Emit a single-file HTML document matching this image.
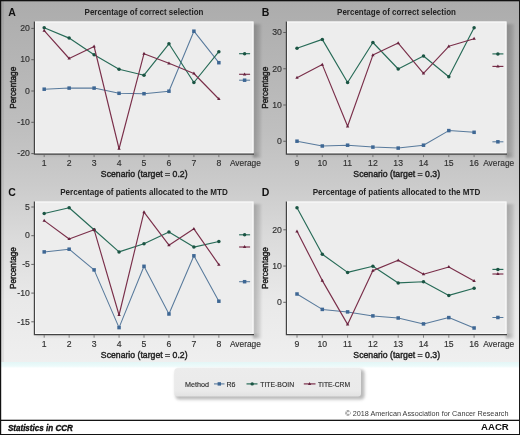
<!DOCTYPE html>
<html><head><meta charset="utf-8"><style>
html,body{margin:0;padding:0;background:#fff;}
body{width:520px;height:435px;overflow:hidden;position:relative;font-family:"Liberation Sans", sans-serif;}
svg{position:absolute;left:0;top:0;}
.tk{font-family:"Liberation Sans", sans-serif;font-size:8.7px;fill:#303030;stroke:#303030;stroke-width:0.15px;}
.xt{font-family:"Liberation Sans", sans-serif;font-size:8.6px;fill:#1e1e1e;stroke:#1e1e1e;stroke-width:0.4px;}
.ti{font-family:"Liberation Sans", sans-serif;font-size:8.7px;font-weight:bold;fill:#222;}
.pl{font-family:"Liberation Sans", sans-serif;font-size:10.5px;font-weight:bold;fill:#111;}
.yl{font-family:"Liberation Sans", sans-serif;font-size:8.4px;fill:#1e1e1e;stroke:#1e1e1e;stroke-width:0.45px;}
.lg{font-family:"Liberation Sans", sans-serif;font-size:7.7px;fill:#2e2e2e;stroke:#2e2e2e;stroke-width:0.15px;}
.cp{font-family:"Liberation Sans", sans-serif;font-size:8px;fill:#3a3a3a;}
.ft{font-family:"Liberation Sans", sans-serif;font-size:8.2px;font-weight:bold;font-style:italic;fill:#111;stroke:#111;stroke-width:0.35px;}
.aa{font-family:"Liberation Sans", sans-serif;font-size:9.4px;font-weight:bold;fill:#111;}
</style></head><body>
<svg width="520" height="435" viewBox="0 0 520 435">
<defs>
<filter id="sh" x="-10%" y="-30%" width="120%" height="180%"><feGaussianBlur stdDeviation="1.8"/></filter>
<linearGradient id="bg" x1="0" y1="0" x2="0" y2="1">
<stop offset="0" stop-color="#acacac"/><stop offset="0.36" stop-color="#bfbfbf"/><stop offset="0.51" stop-color="#cbcbcb"/><stop offset="0.66" stop-color="#dbdbdb"/><stop offset="0.83" stop-color="#e9e9e9"/><stop offset="1" stop-color="#efefef"/>
</linearGradient>
<linearGradient id="shR" x1="0" y1="0" x2="1" y2="0">
<stop offset="0" stop-color="#000" stop-opacity="0.24"/><stop offset="0.85" stop-color="#000" stop-opacity="0.09"/><stop offset="1" stop-color="#000" stop-opacity="0.03"/>
</linearGradient>
<linearGradient id="cy" x1="0" y1="0" x2="0" y2="1">
<stop offset="0" stop-color="#e3f6f6"/><stop offset="0.7" stop-color="#ecfafa"/><stop offset="1" stop-color="#fafefe"/>
</linearGradient>
<linearGradient id="lgG" x1="0" y1="0" x2="0" y2="1"><stop offset="0" stop-color="#ececec"/><stop offset="0.8" stop-color="#eaeaea"/><stop offset="1" stop-color="#e2e2e2"/></linearGradient>
<filter id="ps" x="-20%" y="-20%" width="140%" height="140%"><feGaussianBlur stdDeviation="0.8"/></filter>
<linearGradient id="shB" x1="0" y1="0" x2="0" y2="1"><stop offset="0" stop-color="#000" stop-opacity="0.12"/><stop offset="1" stop-color="#000" stop-opacity="0"/></linearGradient>
</defs>
<rect x="0" y="0" width="520" height="435" fill="#fff"/>
<rect x="1" y="1" width="518" height="361" fill="url(#bg)"/>
<rect x="1" y="362" width="518" height="5.8" fill="url(#cy)"/>
<rect x="1" y="1" width="3" height="361" fill="#000" opacity="0.06"/>
<rect x="253.00" y="24.00" width="8.5" height="134.00" fill="url(#shR)" filter="url(#ps)"/>
<rect x="36.50" y="153.50" width="222.00" height="4" fill="url(#shB)" filter="url(#ps)"/>
<rect x="34.50" y="21.50" width="219.00" height="132.00" fill="#ededed"/>
<rect x="35.10" y="22.10" width="217.80" height="130.80" fill="none" stroke="#f8f8f8" stroke-width="1.2"/>
<path d="M34.40 21.50V154.10H254.00" fill="none" stroke="#434343" stroke-width="1.2"/>
<path d="M31.30 28.40H33.90" stroke="#555" stroke-width="0.9"/>
<text x="29.90" y="31.15" text-anchor="end" class="tk">20</text>
<path d="M31.30 59.70H33.90" stroke="#555" stroke-width="0.9"/>
<text x="29.90" y="62.45" text-anchor="end" class="tk">10</text>
<path d="M31.30 91.00H33.90" stroke="#555" stroke-width="0.9"/>
<text x="29.90" y="93.75" text-anchor="end" class="tk">0</text>
<path d="M31.30 122.30H33.90" stroke="#555" stroke-width="0.9"/>
<text x="29.90" y="125.05" text-anchor="end" class="tk">-10</text>
<path d="M31.30 153.60H33.90" stroke="#555" stroke-width="0.9"/>
<text x="29.90" y="156.35" text-anchor="end" class="tk">-20</text>
<path d="M44.20 154.50V157.10" stroke="#666" stroke-width="0.8"/>
<text x="44.20" y="166.20" text-anchor="middle" class="tk">1</text>
<path d="M69.15 154.50V157.10" stroke="#666" stroke-width="0.8"/>
<text x="69.15" y="166.20" text-anchor="middle" class="tk">2</text>
<path d="M94.10 154.50V157.10" stroke="#666" stroke-width="0.8"/>
<text x="94.10" y="166.20" text-anchor="middle" class="tk">3</text>
<path d="M119.05 154.50V157.10" stroke="#666" stroke-width="0.8"/>
<text x="119.05" y="166.20" text-anchor="middle" class="tk">4</text>
<path d="M144.00 154.50V157.10" stroke="#666" stroke-width="0.8"/>
<text x="144.00" y="166.20" text-anchor="middle" class="tk">5</text>
<path d="M168.95 154.50V157.10" stroke="#666" stroke-width="0.8"/>
<text x="168.95" y="166.20" text-anchor="middle" class="tk">6</text>
<path d="M193.90 154.50V157.10" stroke="#666" stroke-width="0.8"/>
<text x="193.90" y="166.20" text-anchor="middle" class="tk">7</text>
<path d="M218.85 154.50V157.10" stroke="#666" stroke-width="0.8"/>
<text x="218.85" y="166.20" text-anchor="middle" class="tk">8</text>
<text x="245.40" y="166.20" text-anchor="middle" class="tk" textLength="31" lengthAdjust="spacingAndGlyphs">Average</text>
<text x="144.20" y="176.90" text-anchor="middle" class="xt" textLength="86.7" lengthAdjust="spacingAndGlyphs">Scenario (target = 0.2)</text>
<text x="144.00" y="15.30" text-anchor="middle" class="ti" textLength="118.8" lengthAdjust="spacingAndGlyphs">Percentage of correct selection</text>
<text x="8.30" y="15.90" class="pl">A</text>
<text transform="translate(16.20 87.80) rotate(-90)" text-anchor="middle" class="yl" textLength="42" lengthAdjust="spacingAndGlyphs">Percentage</text>
<polyline points="44.20,89.20 69.15,88.10 94.10,88.10 119.05,93.30 144.00,93.70 168.95,91.20 193.90,31.20 218.85,62.70" fill="none" stroke="#587a9c" stroke-width="1.05" stroke-linejoin="round"/>
<path d="M239.10 80.20H250.10" stroke="#587a9c" stroke-width="1.05"/>
<rect x="42.45" y="87.45" width="3.5" height="3.5" fill="#3e6794"/>
<rect x="67.40" y="86.35" width="3.5" height="3.5" fill="#3e6794"/>
<rect x="92.35" y="86.35" width="3.5" height="3.5" fill="#3e6794"/>
<rect x="117.30" y="91.55" width="3.5" height="3.5" fill="#3e6794"/>
<rect x="142.25" y="91.95" width="3.5" height="3.5" fill="#3e6794"/>
<rect x="167.20" y="89.45" width="3.5" height="3.5" fill="#3e6794"/>
<rect x="192.15" y="29.45" width="3.5" height="3.5" fill="#3e6794"/>
<rect x="217.10" y="60.95" width="3.5" height="3.5" fill="#3e6794"/>
<rect x="242.85" y="78.45" width="3.5" height="3.5" fill="#3e6794"/>
<polyline points="44.20,27.70 69.15,38.10 94.10,54.80 119.05,69.20 144.00,75.20 168.95,43.80 193.90,82.50 218.85,51.70" fill="none" stroke="#276b57" stroke-width="1.15" stroke-linejoin="round"/>
<path d="M239.10 53.70H250.10" stroke="#276b57" stroke-width="1.15"/>
<circle cx="44.20" cy="27.70" r="1.75" fill="#1a5443"/>
<circle cx="69.15" cy="38.10" r="1.75" fill="#1a5443"/>
<circle cx="94.10" cy="54.80" r="1.75" fill="#1a5443"/>
<circle cx="119.05" cy="69.20" r="1.75" fill="#1a5443"/>
<circle cx="144.00" cy="75.20" r="1.75" fill="#1a5443"/>
<circle cx="168.95" cy="43.80" r="1.75" fill="#1a5443"/>
<circle cx="193.90" cy="82.50" r="1.75" fill="#1a5443"/>
<circle cx="218.85" cy="51.70" r="1.75" fill="#1a5443"/>
<circle cx="244.60" cy="53.70" r="1.75" fill="#1a5443"/>
<polyline points="44.20,30.60 69.15,58.50 94.10,46.50 119.05,148.75 144.00,53.70 168.95,63.30 193.90,73.50 218.85,99.00" fill="none" stroke="#7a2f4a" stroke-width="1.15" stroke-linejoin="round"/>
<path d="M239.10 74.30H250.10" stroke="#7a2f4a" stroke-width="1.15"/>
<path d="M44.20 28.70L45.90 31.70L42.50 31.70Z" fill="#66213d"/>
<path d="M69.15 56.60L70.85 59.60L67.45 59.60Z" fill="#66213d"/>
<path d="M94.10 44.60L95.80 47.60L92.40 47.60Z" fill="#66213d"/>
<path d="M119.05 146.85L120.75 149.85L117.35 149.85Z" fill="#66213d"/>
<path d="M144.00 51.80L145.70 54.80L142.30 54.80Z" fill="#66213d"/>
<path d="M168.95 61.40L170.65 64.40L167.25 64.40Z" fill="#66213d"/>
<path d="M193.90 71.60L195.60 74.60L192.20 74.60Z" fill="#66213d"/>
<path d="M218.85 97.10L220.55 100.10L217.15 100.10Z" fill="#66213d"/>
<path d="M244.60 72.40L246.30 75.40L242.90 75.40Z" fill="#66213d"/>
<rect x="506.00" y="24.00" width="8.5" height="134.00" fill="url(#shR)" filter="url(#ps)"/>
<rect x="288.50" y="153.50" width="223.00" height="4" fill="url(#shB)" filter="url(#ps)"/>
<rect x="286.50" y="21.50" width="220.00" height="132.00" fill="#ededed"/>
<rect x="287.10" y="22.10" width="218.80" height="130.80" fill="none" stroke="#f8f8f8" stroke-width="1.2"/>
<path d="M286.40 21.50V154.10H507.00" fill="none" stroke="#434343" stroke-width="1.2"/>
<path d="M283.30 32.50H285.90" stroke="#555" stroke-width="0.9"/>
<text x="281.90" y="35.25" text-anchor="end" class="tk">30</text>
<path d="M283.30 68.75H285.90" stroke="#555" stroke-width="0.9"/>
<text x="281.90" y="71.50" text-anchor="end" class="tk">20</text>
<path d="M283.30 105.00H285.90" stroke="#555" stroke-width="0.9"/>
<text x="281.90" y="107.75" text-anchor="end" class="tk">10</text>
<path d="M283.30 141.25H285.90" stroke="#555" stroke-width="0.9"/>
<text x="281.90" y="144.00" text-anchor="end" class="tk">0</text>
<path d="M297.00 154.50V157.10" stroke="#666" stroke-width="0.8"/>
<text x="297.00" y="166.20" text-anchor="middle" class="tk">9</text>
<path d="M322.30 154.50V157.10" stroke="#666" stroke-width="0.8"/>
<text x="322.30" y="166.20" text-anchor="middle" class="tk">10</text>
<path d="M347.60 154.50V157.10" stroke="#666" stroke-width="0.8"/>
<text x="347.60" y="166.20" text-anchor="middle" class="tk">11</text>
<path d="M372.90 154.50V157.10" stroke="#666" stroke-width="0.8"/>
<text x="372.90" y="166.20" text-anchor="middle" class="tk">12</text>
<path d="M398.20 154.50V157.10" stroke="#666" stroke-width="0.8"/>
<text x="398.20" y="166.20" text-anchor="middle" class="tk">13</text>
<path d="M423.50 154.50V157.10" stroke="#666" stroke-width="0.8"/>
<text x="423.50" y="166.20" text-anchor="middle" class="tk">14</text>
<path d="M448.80 154.50V157.10" stroke="#666" stroke-width="0.8"/>
<text x="448.80" y="166.20" text-anchor="middle" class="tk">15</text>
<path d="M474.10 154.50V157.10" stroke="#666" stroke-width="0.8"/>
<text x="474.10" y="166.20" text-anchor="middle" class="tk">16</text>
<text x="498.70" y="166.20" text-anchor="middle" class="tk" textLength="31" lengthAdjust="spacingAndGlyphs">Average</text>
<text x="396.70" y="176.90" text-anchor="middle" class="xt" textLength="86.7" lengthAdjust="spacingAndGlyphs">Scenario (target = 0.3)</text>
<text x="396.50" y="15.30" text-anchor="middle" class="ti" textLength="118.8" lengthAdjust="spacingAndGlyphs">Percentage of correct selection</text>
<text x="261.70" y="15.90" class="pl">B</text>
<text transform="translate(268.20 87.80) rotate(-90)" text-anchor="middle" class="yl" textLength="42" lengthAdjust="spacingAndGlyphs">Percentage</text>
<polyline points="297.00,141.20 322.30,146.00 347.60,145.20 372.90,147.10 398.20,148.10 423.50,145.20 448.80,130.60 474.10,132.30" fill="none" stroke="#587a9c" stroke-width="1.05" stroke-linejoin="round"/>
<path d="M492.40 141.80H503.40" stroke="#587a9c" stroke-width="1.05"/>
<rect x="295.25" y="139.45" width="3.5" height="3.5" fill="#3e6794"/>
<rect x="320.55" y="144.25" width="3.5" height="3.5" fill="#3e6794"/>
<rect x="345.85" y="143.45" width="3.5" height="3.5" fill="#3e6794"/>
<rect x="371.15" y="145.35" width="3.5" height="3.5" fill="#3e6794"/>
<rect x="396.45" y="146.35" width="3.5" height="3.5" fill="#3e6794"/>
<rect x="421.75" y="143.45" width="3.5" height="3.5" fill="#3e6794"/>
<rect x="447.05" y="128.85" width="3.5" height="3.5" fill="#3e6794"/>
<rect x="472.35" y="130.55" width="3.5" height="3.5" fill="#3e6794"/>
<rect x="496.15" y="140.05" width="3.5" height="3.5" fill="#3e6794"/>
<polyline points="297.00,48.30 322.30,39.40 347.60,82.50 372.90,42.50 398.20,69.00 423.50,56.00 448.80,76.70 474.10,27.80" fill="none" stroke="#276b57" stroke-width="1.15" stroke-linejoin="round"/>
<path d="M492.40 53.90H503.40" stroke="#276b57" stroke-width="1.15"/>
<circle cx="297.00" cy="48.30" r="1.75" fill="#1a5443"/>
<circle cx="322.30" cy="39.40" r="1.75" fill="#1a5443"/>
<circle cx="347.60" cy="82.50" r="1.75" fill="#1a5443"/>
<circle cx="372.90" cy="42.50" r="1.75" fill="#1a5443"/>
<circle cx="398.20" cy="69.00" r="1.75" fill="#1a5443"/>
<circle cx="423.50" cy="56.00" r="1.75" fill="#1a5443"/>
<circle cx="448.80" cy="76.70" r="1.75" fill="#1a5443"/>
<circle cx="474.10" cy="27.80" r="1.75" fill="#1a5443"/>
<circle cx="497.90" cy="53.90" r="1.75" fill="#1a5443"/>
<polyline points="297.00,77.70 322.30,64.60 347.60,126.30 372.90,55.10 398.20,43.10 423.50,73.30 448.80,46.30 474.10,38.70" fill="none" stroke="#7a2f4a" stroke-width="1.15" stroke-linejoin="round"/>
<path d="M492.40 66.40H503.40" stroke="#7a2f4a" stroke-width="1.15"/>
<path d="M297.00 75.80L298.70 78.80L295.30 78.80Z" fill="#66213d"/>
<path d="M322.30 62.70L324.00 65.70L320.60 65.70Z" fill="#66213d"/>
<path d="M347.60 124.40L349.30 127.40L345.90 127.40Z" fill="#66213d"/>
<path d="M372.90 53.20L374.60 56.20L371.20 56.20Z" fill="#66213d"/>
<path d="M398.20 41.20L399.90 44.20L396.50 44.20Z" fill="#66213d"/>
<path d="M423.50 71.40L425.20 74.40L421.80 74.40Z" fill="#66213d"/>
<path d="M448.80 44.40L450.50 47.40L447.10 47.40Z" fill="#66213d"/>
<path d="M474.10 36.80L475.80 39.80L472.40 39.80Z" fill="#66213d"/>
<path d="M497.90 64.50L499.60 67.50L496.20 67.50Z" fill="#66213d"/>
<rect x="253.00" y="204.00" width="8.5" height="134.60" fill="url(#shR)" filter="url(#ps)"/>
<rect x="36.50" y="334.10" width="222.00" height="4" fill="url(#shB)" filter="url(#ps)"/>
<rect x="34.50" y="201.50" width="219.00" height="132.60" fill="#ededed"/>
<rect x="35.10" y="202.10" width="217.80" height="131.40" fill="none" stroke="#f8f8f8" stroke-width="1.2"/>
<path d="M34.40 201.50V334.70H254.00" fill="none" stroke="#434343" stroke-width="1.2"/>
<path d="M31.30 207.00H33.90" stroke="#555" stroke-width="0.9"/>
<text x="29.90" y="209.75" text-anchor="end" class="tk">5</text>
<path d="M31.30 235.70H33.90" stroke="#555" stroke-width="0.9"/>
<text x="29.90" y="238.45" text-anchor="end" class="tk">0</text>
<path d="M31.30 264.40H33.90" stroke="#555" stroke-width="0.9"/>
<text x="29.90" y="267.15" text-anchor="end" class="tk">-5</text>
<path d="M31.30 293.10H33.90" stroke="#555" stroke-width="0.9"/>
<text x="29.90" y="295.85" text-anchor="end" class="tk">-10</text>
<path d="M31.30 321.80H33.90" stroke="#555" stroke-width="0.9"/>
<text x="29.90" y="324.55" text-anchor="end" class="tk">-15</text>
<path d="M44.20 335.10V337.70" stroke="#666" stroke-width="0.8"/>
<text x="44.20" y="346.80" text-anchor="middle" class="tk">1</text>
<path d="M69.15 335.10V337.70" stroke="#666" stroke-width="0.8"/>
<text x="69.15" y="346.80" text-anchor="middle" class="tk">2</text>
<path d="M94.10 335.10V337.70" stroke="#666" stroke-width="0.8"/>
<text x="94.10" y="346.80" text-anchor="middle" class="tk">3</text>
<path d="M119.05 335.10V337.70" stroke="#666" stroke-width="0.8"/>
<text x="119.05" y="346.80" text-anchor="middle" class="tk">4</text>
<path d="M144.00 335.10V337.70" stroke="#666" stroke-width="0.8"/>
<text x="144.00" y="346.80" text-anchor="middle" class="tk">5</text>
<path d="M168.95 335.10V337.70" stroke="#666" stroke-width="0.8"/>
<text x="168.95" y="346.80" text-anchor="middle" class="tk">6</text>
<path d="M193.90 335.10V337.70" stroke="#666" stroke-width="0.8"/>
<text x="193.90" y="346.80" text-anchor="middle" class="tk">7</text>
<path d="M218.85 335.10V337.70" stroke="#666" stroke-width="0.8"/>
<text x="218.85" y="346.80" text-anchor="middle" class="tk">8</text>
<text x="245.40" y="346.80" text-anchor="middle" class="tk" textLength="31" lengthAdjust="spacingAndGlyphs">Average</text>
<text x="144.20" y="357.50" text-anchor="middle" class="xt" textLength="86.7" lengthAdjust="spacingAndGlyphs">Scenario (target = 0.2)</text>
<text x="144.00" y="195.30" text-anchor="middle" class="ti" textLength="167.6" lengthAdjust="spacingAndGlyphs">Percentage of patients allocated to the MTD</text>
<text x="8.30" y="195.90" class="pl">C</text>
<text transform="translate(16.20 268.10) rotate(-90)" text-anchor="middle" class="yl" textLength="42" lengthAdjust="spacingAndGlyphs">Percentage</text>
<polyline points="44.20,251.90 69.15,249.20 94.10,269.90 119.05,327.60 144.00,266.30 168.95,314.00 193.90,255.80 218.85,301.20" fill="none" stroke="#587a9c" stroke-width="1.05" stroke-linejoin="round"/>
<path d="M239.10 281.70H250.10" stroke="#587a9c" stroke-width="1.05"/>
<rect x="42.45" y="250.15" width="3.5" height="3.5" fill="#3e6794"/>
<rect x="67.40" y="247.45" width="3.5" height="3.5" fill="#3e6794"/>
<rect x="92.35" y="268.15" width="3.5" height="3.5" fill="#3e6794"/>
<rect x="117.30" y="325.85" width="3.5" height="3.5" fill="#3e6794"/>
<rect x="142.25" y="264.55" width="3.5" height="3.5" fill="#3e6794"/>
<rect x="167.20" y="312.25" width="3.5" height="3.5" fill="#3e6794"/>
<rect x="192.15" y="254.05" width="3.5" height="3.5" fill="#3e6794"/>
<rect x="217.10" y="299.45" width="3.5" height="3.5" fill="#3e6794"/>
<rect x="242.85" y="279.95" width="3.5" height="3.5" fill="#3e6794"/>
<polyline points="44.20,213.50 69.15,207.70 94.10,229.80 119.05,251.90 144.00,243.80 168.95,232.10 193.90,247.10 218.85,241.50" fill="none" stroke="#276b57" stroke-width="1.15" stroke-linejoin="round"/>
<path d="M239.10 234.80H250.10" stroke="#276b57" stroke-width="1.15"/>
<circle cx="44.20" cy="213.50" r="1.75" fill="#1a5443"/>
<circle cx="69.15" cy="207.70" r="1.75" fill="#1a5443"/>
<circle cx="94.10" cy="229.80" r="1.75" fill="#1a5443"/>
<circle cx="119.05" cy="251.90" r="1.75" fill="#1a5443"/>
<circle cx="144.00" cy="243.80" r="1.75" fill="#1a5443"/>
<circle cx="168.95" cy="232.10" r="1.75" fill="#1a5443"/>
<circle cx="193.90" cy="247.10" r="1.75" fill="#1a5443"/>
<circle cx="218.85" cy="241.50" r="1.75" fill="#1a5443"/>
<circle cx="244.60" cy="234.80" r="1.75" fill="#1a5443"/>
<polyline points="44.20,220.60 69.15,239.00 94.10,229.70 119.05,315.00 144.00,212.10 168.95,245.20 193.90,228.80 218.85,264.60" fill="none" stroke="#7a2f4a" stroke-width="1.15" stroke-linejoin="round"/>
<path d="M239.10 247.00H250.10" stroke="#7a2f4a" stroke-width="1.15"/>
<path d="M44.20 218.70L45.90 221.70L42.50 221.70Z" fill="#66213d"/>
<path d="M69.15 237.10L70.85 240.10L67.45 240.10Z" fill="#66213d"/>
<path d="M94.10 227.80L95.80 230.80L92.40 230.80Z" fill="#66213d"/>
<path d="M119.05 313.10L120.75 316.10L117.35 316.10Z" fill="#66213d"/>
<path d="M144.00 210.20L145.70 213.20L142.30 213.20Z" fill="#66213d"/>
<path d="M168.95 243.30L170.65 246.30L167.25 246.30Z" fill="#66213d"/>
<path d="M193.90 226.90L195.60 229.90L192.20 229.90Z" fill="#66213d"/>
<path d="M218.85 262.70L220.55 265.70L217.15 265.70Z" fill="#66213d"/>
<path d="M244.60 245.10L246.30 248.10L242.90 248.10Z" fill="#66213d"/>
<rect x="506.00" y="204.00" width="8.5" height="134.60" fill="url(#shR)" filter="url(#ps)"/>
<rect x="288.50" y="334.10" width="223.00" height="4" fill="url(#shB)" filter="url(#ps)"/>
<rect x="286.50" y="201.50" width="220.00" height="132.60" fill="#ededed"/>
<rect x="287.10" y="202.10" width="218.80" height="131.40" fill="none" stroke="#f8f8f8" stroke-width="1.2"/>
<path d="M286.40 201.50V334.70H507.00" fill="none" stroke="#434343" stroke-width="1.2"/>
<path d="M283.30 229.80H285.90" stroke="#555" stroke-width="0.9"/>
<text x="281.90" y="232.55" text-anchor="end" class="tk">20</text>
<path d="M283.30 266.05H285.90" stroke="#555" stroke-width="0.9"/>
<text x="281.90" y="268.80" text-anchor="end" class="tk">10</text>
<path d="M283.30 302.30H285.90" stroke="#555" stroke-width="0.9"/>
<text x="281.90" y="305.05" text-anchor="end" class="tk">0</text>
<path d="M297.00 335.10V337.70" stroke="#666" stroke-width="0.8"/>
<text x="297.00" y="346.80" text-anchor="middle" class="tk">9</text>
<path d="M322.30 335.10V337.70" stroke="#666" stroke-width="0.8"/>
<text x="322.30" y="346.80" text-anchor="middle" class="tk">10</text>
<path d="M347.60 335.10V337.70" stroke="#666" stroke-width="0.8"/>
<text x="347.60" y="346.80" text-anchor="middle" class="tk">11</text>
<path d="M372.90 335.10V337.70" stroke="#666" stroke-width="0.8"/>
<text x="372.90" y="346.80" text-anchor="middle" class="tk">12</text>
<path d="M398.20 335.10V337.70" stroke="#666" stroke-width="0.8"/>
<text x="398.20" y="346.80" text-anchor="middle" class="tk">13</text>
<path d="M423.50 335.10V337.70" stroke="#666" stroke-width="0.8"/>
<text x="423.50" y="346.80" text-anchor="middle" class="tk">14</text>
<path d="M448.80 335.10V337.70" stroke="#666" stroke-width="0.8"/>
<text x="448.80" y="346.80" text-anchor="middle" class="tk">15</text>
<path d="M474.10 335.10V337.70" stroke="#666" stroke-width="0.8"/>
<text x="474.10" y="346.80" text-anchor="middle" class="tk">16</text>
<text x="498.70" y="346.80" text-anchor="middle" class="tk" textLength="31" lengthAdjust="spacingAndGlyphs">Average</text>
<text x="396.70" y="357.50" text-anchor="middle" class="xt" textLength="86.7" lengthAdjust="spacingAndGlyphs">Scenario (target = 0.3)</text>
<text x="396.50" y="195.30" text-anchor="middle" class="ti" textLength="167.6" lengthAdjust="spacingAndGlyphs">Percentage of patients allocated to the MTD</text>
<text x="261.70" y="195.90" class="pl">D</text>
<text transform="translate(268.20 268.10) rotate(-90)" text-anchor="middle" class="yl" textLength="42" lengthAdjust="spacingAndGlyphs">Percentage</text>
<polyline points="297.00,294.00 322.30,309.40 347.60,311.90 372.90,315.90 398.20,318.00 423.50,323.90 448.80,317.60 474.10,328.00" fill="none" stroke="#587a9c" stroke-width="1.05" stroke-linejoin="round"/>
<path d="M492.40 317.50H503.40" stroke="#587a9c" stroke-width="1.05"/>
<rect x="295.25" y="292.25" width="3.5" height="3.5" fill="#3e6794"/>
<rect x="320.55" y="307.65" width="3.5" height="3.5" fill="#3e6794"/>
<rect x="345.85" y="310.15" width="3.5" height="3.5" fill="#3e6794"/>
<rect x="371.15" y="314.15" width="3.5" height="3.5" fill="#3e6794"/>
<rect x="396.45" y="316.25" width="3.5" height="3.5" fill="#3e6794"/>
<rect x="421.75" y="322.15" width="3.5" height="3.5" fill="#3e6794"/>
<rect x="447.05" y="315.85" width="3.5" height="3.5" fill="#3e6794"/>
<rect x="472.35" y="326.25" width="3.5" height="3.5" fill="#3e6794"/>
<rect x="496.15" y="315.75" width="3.5" height="3.5" fill="#3e6794"/>
<polyline points="297.00,207.70 322.30,254.20 347.60,272.40 372.90,266.30 398.20,282.90 423.50,281.80 448.80,295.40 474.10,288.30" fill="none" stroke="#276b57" stroke-width="1.15" stroke-linejoin="round"/>
<path d="M492.40 269.40H503.40" stroke="#276b57" stroke-width="1.15"/>
<circle cx="297.00" cy="207.70" r="1.75" fill="#1a5443"/>
<circle cx="322.30" cy="254.20" r="1.75" fill="#1a5443"/>
<circle cx="347.60" cy="272.40" r="1.75" fill="#1a5443"/>
<circle cx="372.90" cy="266.30" r="1.75" fill="#1a5443"/>
<circle cx="398.20" cy="282.90" r="1.75" fill="#1a5443"/>
<circle cx="423.50" cy="281.80" r="1.75" fill="#1a5443"/>
<circle cx="448.80" cy="295.40" r="1.75" fill="#1a5443"/>
<circle cx="474.10" cy="288.30" r="1.75" fill="#1a5443"/>
<circle cx="497.90" cy="269.40" r="1.75" fill="#1a5443"/>
<polyline points="297.00,231.30 322.30,280.60 347.60,324.40 372.90,270.60 398.20,260.30 423.50,274.20 448.80,267.00 474.10,280.90" fill="none" stroke="#7a2f4a" stroke-width="1.15" stroke-linejoin="round"/>
<path d="M492.40 274.00H503.40" stroke="#7a2f4a" stroke-width="1.15"/>
<path d="M297.00 229.40L298.70 232.40L295.30 232.40Z" fill="#66213d"/>
<path d="M322.30 278.70L324.00 281.70L320.60 281.70Z" fill="#66213d"/>
<path d="M347.60 322.50L349.30 325.50L345.90 325.50Z" fill="#66213d"/>
<path d="M372.90 268.70L374.60 271.70L371.20 271.70Z" fill="#66213d"/>
<path d="M398.20 258.40L399.90 261.40L396.50 261.40Z" fill="#66213d"/>
<path d="M423.50 272.30L425.20 275.30L421.80 275.30Z" fill="#66213d"/>
<path d="M448.80 265.10L450.50 268.10L447.10 268.10Z" fill="#66213d"/>
<path d="M474.10 279.00L475.80 282.00L472.40 282.00Z" fill="#66213d"/>
<path d="M497.90 272.10L499.60 275.10L496.20 275.10Z" fill="#66213d"/>
<!-- legend -->
<rect x="175.5" y="369.5" width="189" height="30" rx="4" fill="#a8a8a8" opacity="0.8" filter="url(#sh)"/>
<rect x="174.5" y="368.2" width="186.5" height="28.2" rx="3" fill="url(#lgG)"/>
<text x="185" y="386.5" class="lg" textLength="24" lengthAdjust="spacingAndGlyphs">Method</text>
<path d="M214 383.9H224.5" stroke="#587a9c" stroke-width="1.1"/><rect x="217.6" y="382.2" width="3.4" height="3.4" fill="#3e6794"/>
<text x="226.5" y="386.5" class="lg" textLength="9" lengthAdjust="spacingAndGlyphs">R6</text>
<path d="M246.5 383.9H257.5" stroke="#276b57" stroke-width="1.2"/><circle cx="252.2" cy="383.9" r="1.7" fill="#1a5443"/>
<text x="260.2" y="386.5" class="lg" textLength="33.9" lengthAdjust="spacingAndGlyphs">TITE-BOIN</text>
<path d="M303.8 383.9H315.5" stroke="#7a2f4a" stroke-width="1.2"/><path d="M309.6 382.1L311.2 385L308 385Z" fill="#66213d"/>
<text x="317.9" y="386.5" class="lg" textLength="32.2" lengthAdjust="spacingAndGlyphs">TITE-CRM</text>
<text x="345.3" y="415.7" class="cp" textLength="163.2" lengthAdjust="spacingAndGlyphs">© 2018 American Association for Cancer Research</text>
<rect x="0" y="419.7" width="520" height="1.3" fill="#151515"/>
<text x="7.9" y="430.6" class="ft" textLength="65" lengthAdjust="spacingAndGlyphs">Statistics in CCR</text>
<text x="481" y="430.3" class="aa" textLength="27.8" lengthAdjust="spacingAndGlyphs">AACR</text>
<!-- frame -->
<rect x="0" y="0" width="520" height="1.3" fill="#111"/>
<rect x="0" y="0" width="1.2" height="435" fill="#111"/>
<rect x="519" y="0" width="1" height="435" fill="#1a1a1a"/>
<rect x="0" y="434" width="520" height="1" fill="#111"/>
</svg>
</body></html>
